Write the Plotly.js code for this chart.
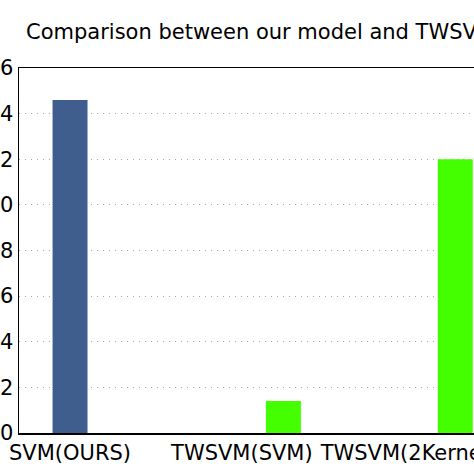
<!DOCTYPE html>
<html>
<head>
<meta charset="utf-8">
<script src="https://cdn.plot.ly/plotly-3.0.1.min.js"></script>
<style>
	html, body { margin: 0; padding: 0; overflow: hidden; background: #fff; }
	#plot { position: absolute; left: 0; top: 0; width: 620px; height: 474px; }
</style>
</head>
<body>
<div id="plot"></div>
<script>
	// Chart data
	const categories = ['SVM(OURS)', 'TWSVM(SVM)', 'TWSVM(2Kernels)'];
	const oursValues = [14.6, null, null];
	const twsvmValues = [null, 1.4, 12.0];
	const yTicks = [0, 2, 4, 6, 8, 10, 12, 14, 16];

	const font = 'DejaVu Sans, Verdana, sans-serif';

	// The two series sit at different offsets inside a category, like the original.
	const data = [
		{
			type: 'bar',
			x: categories,
			y: oursValues,
			name: 'Ours',
			marker: { color: '#3f5e8d', line: { width: 0 } },
			width: 0.2035,
			offset: -0.1017
		},
		{
			type: 'bar',
			x: categories,
			y: twsvmValues,
			name: 'TWSVM',
			marker: { color: '#44ff00', line: { width: 0 } },
			width: 0.2035,
			offset: 0.14
		}
	];

	const layout = {
		width: 620,
		height: 474,
		barmode: 'overlay',
		showlegend: false,
		paper_bgcolor: '#fff',
		plot_bgcolor: '#fff',
		font: { family: font, size: 21, color: '#000' },
		title: {
			text: 'Comparison between our model and TWSVM',
			font: { family: font, size: 21, color: '#000' },
			xref: 'container',
			x: 26 / 620,
			xanchor: 'left',
			yref: 'container',
			y: 1 - 24 / 474,
			yanchor: 'top'
		},
		margin: { l: 19, r: 86, t: 68, b: 41 },
		xaxis: {
			type: 'category',
			range: [-0.297, 2.7],
			showline: true,
			mirror: true,
			linecolor: '#000',
			linewidth: 1.5,
			showgrid: false,
			ticks: '',
			tickfont: { family: font, size: 21, color: '#000' }
		},
		yaxis: {
			range: [0, 16],
			tickvals: yTicks,
			ticktext: yTicks.map(String),
			showline: true,
			mirror: true,
			linecolor: '#000',
			linewidth: 1.5,
			showgrid: true,
			gridcolor: '#a8a8a8',
			griddash: '1px,5px',
			gridwidth: 1,
			zeroline: false,
			ticks: '',
			ticklabelstandoff: 0,
			tickfont: { family: font, size: 21, color: '#000' }
		}
	};

	Plotly.newPlot('plot', data, layout, { staticPlot: true, displayModeBar: false });
</script>
</body>
</html>
